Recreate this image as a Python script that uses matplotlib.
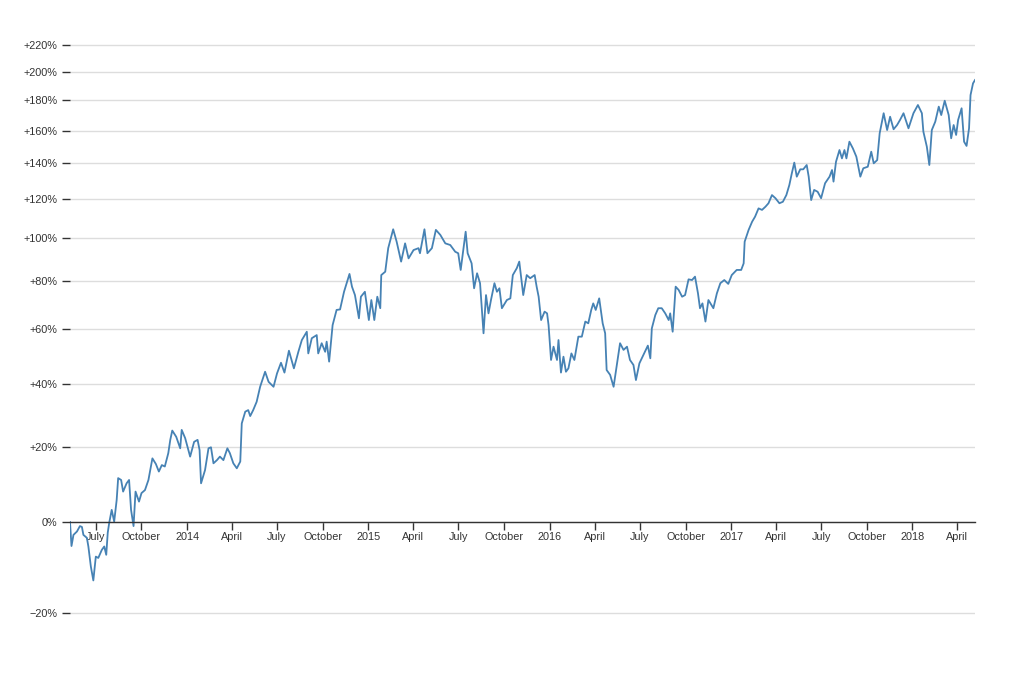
import pandas as pd
import matplotlib
matplotlib.use('Agg')
import matplotlib.pyplot as plt
import matplotlib.dates as mdates
from matplotlib.ticker import FixedLocator, FuncFormatter, NullLocator

# cumulative change since the first day, in percent
dates = ['2013-05-10', '2013-05-13', '2013-05-17', '2013-05-24', '2013-05-30', '2013-06-03', '2013-06-06',
         '2013-06-13', '2013-06-16', '2013-06-21', '2013-06-26', '2013-07-01', '2013-07-06', '2013-07-13',
         '2013-07-18', '2013-07-22', '2013-07-25', '2013-07-28', '2013-08-02', '2013-08-07', '2013-08-12',
         '2013-08-15', '2013-08-21', '2013-08-25', '2013-09-01', '2013-09-06', '2013-09-10', '2013-09-15',
         '2013-09-19', '2013-09-26', '2013-10-01', '2013-10-08', '2013-10-15', '2013-10-23', '2013-10-30',
         '2013-11-05', '2013-11-11', '2013-11-17', '2013-11-24', '2013-11-28', '2013-12-02', '2013-12-10',
         '2013-12-18', '2013-12-21', '2013-12-28', '2014-01-07', '2014-01-15', '2014-01-22', '2014-01-26',
         '2014-01-29', '2014-02-06', '2014-02-13', '2014-02-18', '2014-02-23', '2014-03-02', '2014-03-08',
         '2014-03-15', '2014-03-23', '2014-03-28', '2014-04-04', '2014-04-11', '2014-04-18', '2014-04-21',
         '2014-04-28', '2014-05-04', '2014-05-08', '2014-05-14', '2014-05-21', '2014-05-28', '2014-06-07',
         '2014-06-14', '2014-06-24', '2014-07-01', '2014-07-09', '2014-07-16', '2014-07-25', '2014-08-04',
         '2014-08-13', '2014-08-20', '2014-08-30', '2014-09-02', '2014-09-09', '2014-09-19', '2014-09-22',
         '2014-09-29', '2014-10-06', '2014-10-09', '2014-10-14', '2014-10-21', '2014-10-29', '2014-11-05',
         '2014-11-13', '2014-11-24', '2014-11-29', '2014-12-05', '2014-12-13', '2014-12-17', '2014-12-25',
         '2015-01-02', '2015-01-07', '2015-01-13', '2015-01-19', '2015-01-25', '2015-01-27', '2015-02-04',
         '2015-02-10', '2015-02-20', '2015-02-27', '2015-03-08', '2015-03-16', '2015-03-23', '2015-04-02',
         '2015-04-12', '2015-04-15', '2015-04-24', '2015-04-30', '2015-05-09', '2015-05-17', '2015-05-26',
         '2015-06-05', '2015-06-15', '2015-06-25', '2015-07-01', '2015-07-06', '2015-07-16', '2015-07-20',
         '2015-07-28', '2015-08-02', '2015-08-08', '2015-08-14', '2015-08-21', '2015-08-26', '2015-08-31',
         '2015-09-05', '2015-09-12', '2015-09-17', '2015-09-22', '2015-09-27', '2015-10-07', '2015-10-14',
         '2015-10-19', '2015-10-27', '2015-11-01', '2015-11-09', '2015-11-16', '2015-11-23', '2015-12-02',
         '2015-12-06', '2015-12-10', '2015-12-15', '2015-12-22', '2015-12-27', '2015-12-30', '2016-01-04',
         '2016-01-09', '2016-01-16', '2016-01-19', '2016-01-24', '2016-01-29', '2016-02-03', '2016-02-08',
         '2016-02-14', '2016-02-20', '2016-02-28', '2016-03-06', '2016-03-13', '2016-03-19', '2016-03-25',
         '2016-03-29', '2016-04-03', '2016-04-10', '2016-04-17', '2016-04-22', '2016-04-25', '2016-05-02',
         '2016-05-09', '2016-05-16', '2016-05-22', '2016-05-29', '2016-06-05', '2016-06-11', '2016-06-18',
         '2016-06-23', '2016-06-30', '2016-07-08', '2016-07-17', '2016-07-22', '2016-07-25', '2016-08-01',
         '2016-08-07', '2016-08-14', '2016-08-21', '2016-08-28', '2016-08-31', '2016-09-05', '2016-09-11',
         '2016-09-17', '2016-09-24', '2016-09-30', '2016-10-07', '2016-10-14', '2016-10-20', '2016-10-26',
         '2016-10-30', '2016-11-04', '2016-11-10', '2016-11-16', '2016-11-26', '2016-12-03', '2016-12-10',
         '2016-12-18', '2016-12-26', '2017-01-02', '2017-01-12', '2017-01-21', '2017-01-26', '2017-01-28',
         '2017-02-05', '2017-02-12', '2017-02-18', '2017-02-25', '2017-03-04', '2017-03-11', '2017-03-17',
         '2017-03-24', '2017-03-31', '2017-04-08', '2017-04-15', '2017-04-22', '2017-04-28', '2017-05-03',
         '2017-05-08', '2017-05-13', '2017-05-20', '2017-05-26', '2017-06-02', '2017-06-06', '2017-06-11',
         '2017-06-17', '2017-06-24', '2017-07-01', '2017-07-09', '2017-07-18', '2017-07-23', '2017-07-26',
         '2017-07-31', '2017-08-07', '2017-08-12', '2017-08-17', '2017-08-21', '2017-08-27', '2017-09-03',
         '2017-09-10', '2017-09-18', '2017-09-24', '2017-10-03', '2017-10-10', '2017-10-15', '2017-10-22',
         '2017-10-27', '2017-11-04', '2017-11-11', '2017-11-17', '2017-11-24', '2017-12-01', '2017-12-07',
         '2017-12-14', '2017-12-24', '2018-01-03', '2018-01-12', '2018-01-20', '2018-01-23', '2018-01-30',
         '2018-02-04', '2018-02-09', '2018-02-16', '2018-02-23', '2018-02-28', '2018-03-07', '2018-03-15',
         '2018-03-20', '2018-03-25', '2018-03-30', '2018-04-03', '2018-04-10', '2018-04-15', '2018-04-20',
         '2018-04-25', '2018-04-28', '2018-05-03', '2018-05-07']
change = [0.0, -5.7, -3.1, -2.3, -1.0, -1.2, -3.1,
          -3.8, -5.8, -10.3, -13.3, -8.1, -8.4, -6.6,
          -5.8, -7.7, -2.6, -0.2, 3.0, 0.1, 5.5,
          11.3, 10.8, 7.7, 9.9, 10.8, 3.0, -1.0,
          7.7, 5.1, 7.3, 8.1, 10.8, 16.8, 15.2,
          13.1, 14.9, 14.5, 18.3, 22.2, 25.0, 23.1,
          19.7, 25.2, 22.7, 17.3, 21.6, 22.2, 19.2,
          9.9, 13.5, 19.7, 20.0, 15.4, 16.3, 17.3,
          16.3, 19.7, 18.3, 15.4, 14.0, 15.9, 27.2,
          30.9, 31.4, 29.5, 31.4, 34.1, 39.1, 44.3,
          40.8, 39.1, 43.7, 47.5, 44.0, 51.9, 45.5,
          51.5, 55.9, 59.1, 50.9, 56.6, 57.8, 50.9,
          54.7, 51.5, 55.3, 47.9, 61.7, 67.8, 68.0,
          75.4, 83.2, 77.6, 74.0, 64.4, 73.3, 75.4,
          63.7, 71.9, 63.7, 73.3, 68.5, 82.7, 84.2,
          95.1, 104.3, 98.2, 88.8, 97.4, 90.3, 94.2,
          95.1, 92.7, 104.3, 92.7, 95.1, 104.0, 101.5,
          97.4, 96.6, 93.4, 92.7, 85.0, 103.1, 92.7,
          88.0, 76.9, 83.5, 79.1, 58.5, 74.0, 66.4,
          71.9, 79.1, 75.4, 76.9, 68.5, 71.9, 72.6,
          82.7, 85.8, 88.8, 74.0, 82.7, 81.3, 82.7,
          77.6, 73.3, 63.7, 67.1, 66.4, 61.7, 48.5,
          53.4, 48.5, 55.9, 44.0, 49.7, 44.3, 45.5,
          50.9, 48.5, 57.2, 57.2, 63.1, 62.4, 67.8,
          70.5, 67.8, 72.6, 62.4, 58.5, 44.9, 43.2,
          39.1, 47.3, 54.7, 52.2, 53.4, 48.5, 46.7,
          41.4, 47.3, 50.3, 53.8, 49.1, 60.4, 65.7,
          68.5, 68.5, 66.4, 63.7, 66.4, 59.1, 77.6,
          76.2, 73.3, 74.0, 80.8, 80.5, 82.0, 74.7,
          68.5, 70.5, 63.1, 71.9, 68.5, 74.7, 79.1,
          80.5, 78.8, 82.7, 85.0, 85.0, 88.0, 98.2,
          104.0, 108.1, 110.7, 115.0, 114.2, 115.9, 117.7,
          122.1, 120.4, 117.7, 118.5, 122.1, 127.6, 134.2,
          140.4, 132.3, 136.5, 136.5, 139.0, 132.3, 119.4,
          124.9, 123.9, 120.4, 128.6, 132.3, 136.1, 129.5,
          140.9, 147.9, 142.9, 147.9, 142.9, 153.0, 148.9,
          143.9, 132.3, 137.1, 138.0, 146.9, 140.0, 141.9,
          158.3, 171.2, 160.3, 168.9, 160.8, 163.5, 166.8,
          171.2, 161.4, 171.2, 176.7, 171.2, 159.3, 149.9,
          139.0, 160.3, 165.7, 175.6, 170.0, 179.6, 170.0,
          155.1, 163.5, 157.2, 166.8, 174.5, 153.0, 150.4,
          161.4, 183.5, 191.7, 194.1]

y_ticks = [-20, 0, 20, 40, 60, 80, 100, 120, 140, 160, 180, 200, 220]

df = pd.DataFrame({'date': pd.to_datetime(dates), 'change': change})
df['ratio'] = 1 + df['change'] / 100

plt.rcParams['font.family'] = ['Liberation Sans', 'DejaVu Sans']

fig = plt.figure(figsize=(10.24, 6.74), dpi=100)
ax = fig.add_axes([70 / 1024, 14 / 674, 905 / 1024, 640 / 674])

ax.plot(df['date'], df['ratio'], color='steelblue', lw=1.3, solid_joinstyle='round')

# log scale, like d3.scaleLog on (1 + change)
ax.set_yscale('log')
ax.set_ylim(0.714, 3.405)
ax.set_xlim(pd.Timestamp('2013-05-10'), pd.Timestamp('2018-05-07'))

ax.yaxis.set_major_locator(FixedLocator([1 + t / 100 for t in y_ticks]))
ax.yaxis.set_minor_locator(NullLocator())


def fmt_pct(v, pos):
    p = round((v - 1) * 100)
    if p > 0:
        return '+%d%%' % p
    if p < 0:
        return '\u2212%d%%' % -p
    return '0%'


ax.yaxis.set_major_formatter(FuncFormatter(fmt_pct))
ax.grid(axis='y', color='#dddddd', lw=1)

ax.xaxis.set_major_locator(mdates.MonthLocator(bymonth=[1, 4, 7, 10]))


def fmt_month(v, pos):
    d = mdates.num2date(v)
    return str(d.year) if d.month == 1 else d.strftime('%B')


ax.xaxis.set_major_formatter(FuncFormatter(fmt_month))

for s in ['top', 'right', 'left']:
    ax.spines[s].set_visible(False)
ax.spines['bottom'].set_position(('data', 1.0))
ax.spines['bottom'].set_color('#333333')
ax.spines['bottom'].set_linewidth(1)

ax.tick_params(axis='y', length=6, width=1, color='#333333', pad=3, labelsize=7.8, labelcolor='#333333')
ax.tick_params(axis='x', length=6, width=1, color='#333333', pad=1.5, labelsize=7.8, labelcolor='#333333')
ax.set_facecolor('none')

plt.savefig('out.png', dpi=100)
